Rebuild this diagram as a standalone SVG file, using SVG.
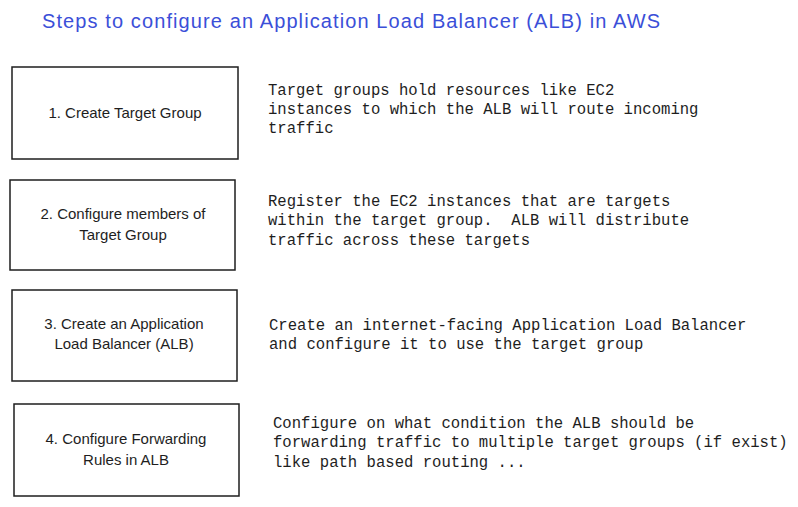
<svg xmlns="http://www.w3.org/2000/svg" width="798" height="507" viewBox="0 0 798 507">
<style>
.box{fill:none;stroke:#1e1e1e;stroke-width:1.5}
.lbl{font-family:"Liberation Sans",sans-serif;font-size:15px;fill:#1e1e1e;text-anchor:middle}
.desc{font-family:"Liberation Mono",monospace;font-size:15.6px;fill:#1e1e1e}
.title{font-family:"Liberation Sans",sans-serif;font-size:20px;fill:#3b4fd8}
</style>
<rect width="798" height="507" fill="#fff"/>
<text class="title" x="42" y="28" textLength="618">Steps to configure an Application Load Balancer (ALB) in AWS</text>
<g id="node1"><rect class="box" x="12" y="67" width="226" height="92"/><text class="lbl" x="125" y="118">1. Create Target Group</text></g>
<g id="node2"><rect class="box" x="10" y="180" width="225" height="90"/><text class="lbl" x="123" y="219">2. Configure members of</text><text class="lbl" x="123" y="240">Target Group</text></g>
<g id="node3"><rect class="box" x="12" y="290" width="225" height="91"/><text class="lbl" x="124" y="329">3. Create an Application</text><text class="lbl" x="124" y="349">Load Balancer (ALB)</text></g>
<g id="node4"><rect class="box" x="14" y="404" width="225" height="92"/><text class="lbl" x="126" y="444">4. Configure Forwarding</text><text class="lbl" x="126" y="465">Rules in ALB</text></g>
<g id="text1"><text class="desc" x="268" y="95">Target groups hold resources like EC2</text><text class="desc" x="268" y="114">instances to which the ALB will route incoming</text><text class="desc" x="268" y="133">traffic</text></g>
<g id="text2"><text class="desc" x="268" y="206">Register the EC2 instances that are targets</text><text class="desc" x="268" y="225" xml:space="preserve">within the target group.  ALB will distribute</text><text class="desc" x="268" y="245">traffic across these targets</text></g>
<g id="text3"><text class="desc" x="269" y="330">Create an internet-facing Application Load Balancer</text><text class="desc" x="269" y="349">and configure it to use the target group</text></g>
<g id="text4"><text class="desc" x="273" y="428">Configure on what condition the ALB should be</text><text class="desc" x="273" y="447">forwarding traffic to multiple target groups (if exist)</text><text class="desc" x="273" y="467">like path based routing ...</text></g>
<g id="connectors"/>
</svg>
